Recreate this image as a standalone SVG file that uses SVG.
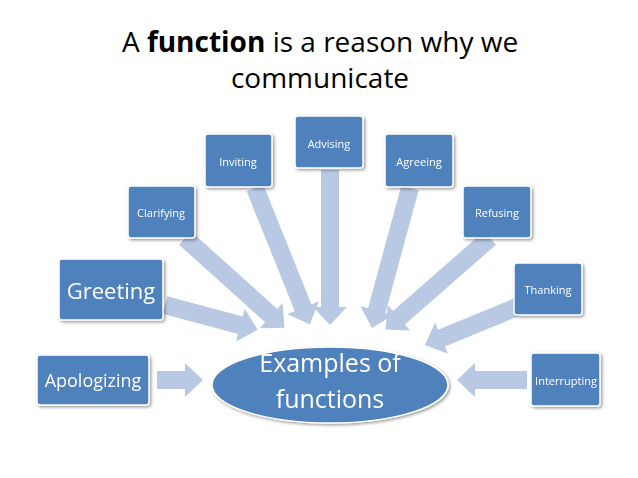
<svg xmlns="http://www.w3.org/2000/svg" width="638" height="478" viewBox="0 0 638 478">
<style>
.b{fill:#4F81BD;stroke:#fff;stroke-width:1.5}
.t{fill:#fff;font-family:"Open Sans","Liberation Sans",sans-serif;text-anchor:middle;dominant-baseline:central}
.a{fill:#B9C9E4}
.h{fill:#000;font-family:"Open Sans","Liberation Sans",sans-serif;text-anchor:middle;font-size:28px}
</style>
<defs><filter id="s"><feDropShadow dx="1.5" dy="1.5" stdDeviation="1.5" flood-opacity="0.4"/></filter></defs>
<rect width="638" height="478" fill="#fff"/>
<text class="h" x="320" y="52">A <tspan font-weight="bold">function</tspan> is a reason why we</text>
<text class="h" x="320" y="88">communicate</text>
<g id="connectors">
<path class="a" transform="translate(157,380) rotate(0)" d="M0,-9L28,-9L28,-17L46,0L28,17L28,9L0,9Z"/>
<path class="a" transform="translate(165,305) rotate(15)" d="M0,-9L78,-9L78,-17L96,0L78,17L78,9L0,9Z"/>
<path class="a" transform="translate(185,238) rotate(42)" d="M0,-9L116,-9L116,-17L134,0L116,17L116,9L0,9Z"/>
<path class="a" transform="translate(255,188) rotate(68.1)" d="M0,-9L129,-9L129,-17L147,0L129,17L129,9L0,9Z"/>
<path class="a" transform="translate(330,170) rotate(90)" d="M0,-9L137,-9L137,-17L155,0L137,17L137,9L0,9Z"/>
<path class="a" transform="translate(410,188) rotate(105.2)" d="M0,-9L127,-9L127,-17L145,0L127,17L127,9L0,9Z"/>
<path class="a" transform="translate(490,238) rotate(138.8)" d="M0,-9L121,-9L121,-17L139,0L121,17L121,9L0,9Z"/>
<path class="a" transform="translate(522,305) rotate(157.6)" d="M0,-9L87,-9L87,-17L105,0L87,17L87,9L0,9Z"/>
<path class="a" transform="translate(527,380) rotate(180)" d="M0,-9L52,-9L52,-17L70,0L52,17L52,9L0,9Z"/>
</g>
<g id="center" filter="url(#s)"><ellipse class="b" cx="330" cy="385" rx="118" ry="38"/><text class="t" x="330" y="362" font-size="25">Examples of</text><text class="t" x="330" y="398" font-size="25">functions</text></g>
<g id="apologizing" filter="url(#s)"><rect class="b" x="37" y="355" width="112" height="50" rx="3"/><text class="t" x="93" y="380" font-size="18">Apologizing</text></g>
<g id="greeting" filter="url(#s)"><rect class="b" x="59" y="259" width="104" height="61" rx="3"/><text class="t" x="111" y="290" font-size="22">Greeting</text></g>
<g id="clarifying" filter="url(#s)"><rect class="b" x="128" y="186" width="67" height="52" rx="3"/><text class="t" x="161" y="212" font-size="11">Clarifying</text></g>
<g id="inviting" filter="url(#s)"><rect class="b" x="205" y="134" width="67" height="53" rx="3"/><text class="t" x="238" y="161" font-size="11">Inviting</text></g>
<g id="advising" filter="url(#s)"><rect class="b" x="295" y="116" width="68" height="52" rx="3"/><text class="t" x="329" y="143" font-size="11">Advising</text></g>
<g id="agreeing" filter="url(#s)"><rect class="b" x="385" y="134" width="68" height="53" rx="3"/><text class="t" x="419" y="161" font-size="11">Agreeing</text></g>
<g id="refusing" filter="url(#s)"><rect class="b" x="463" y="186" width="68" height="52" rx="3"/><text class="t" x="497" y="212" font-size="11">Refusing</text></g>
<g id="thanking" filter="url(#s)"><rect class="b" x="514" y="263" width="68" height="52" rx="3"/><text class="t" x="548" y="289" font-size="11">Thanking</text></g>
<g id="interrupting" filter="url(#s)"><rect class="b" x="531" y="353" width="69" height="53" rx="3"/><text class="t" x="566" y="380" font-size="11">Interrupting</text></g>
</svg>
